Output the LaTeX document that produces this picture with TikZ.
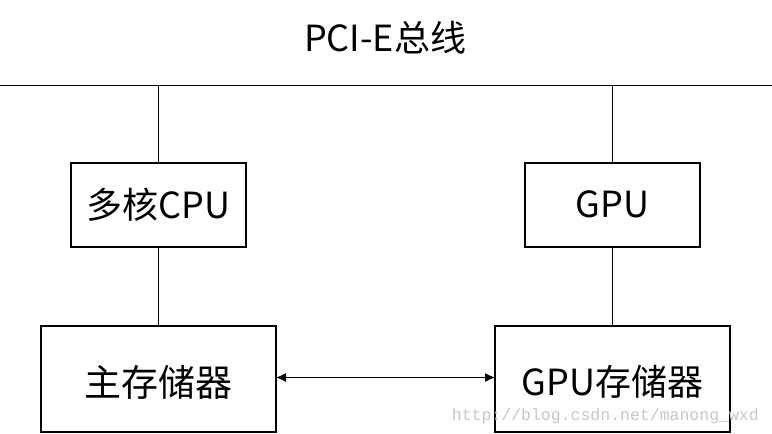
\documentclass[tikz,border=0pt]{standalone}
\usepackage{fontspec}
\setmainfont{Noto Sans CJK SC}
\newfontfamily\wmfont{Liberation Mono}
\usetikzlibrary{arrows.meta}
\begin{document}
\begin{tikzpicture}[x=1pt,y=-1pt,
  unitbox/.style={draw,line width=2pt,inner sep=0pt,outer sep=0pt,anchor=north west},
  conn/.style={line width=1pt}]
\useasboundingbox (0,0) rectangle (772,434);
\node (bus) at (385,38) {\fontsize{36}{42}\selectfont PCI-E总线};
\coordinate (busL) at (0,85.5);
\coordinate (busR) at (772,85.5);
\draw[conn] (busL) -- (busR);
\node[unitbox,minimum width=175pt,minimum height=84pt] (cpu) at (71,162.5) {};
\node at (cpu.center) {\fontsize{36}{42}\selectfont 多核CPU};
\node[unitbox,minimum width=175pt,minimum height=84pt] (gpu) at (525,162.5) {};
\node at (gpu.center) {\fontsize{36}{42}\selectfont GPU};
\node[unitbox,minimum width=235pt,minimum height=106pt] (mem) at (41,326) {};
\node at ([yshift=-3pt]mem.center) {\fontsize{37}{43}\selectfont 主存储器};
\node[unitbox,minimum width=235pt,minimum height=106pt] (gmem) at (495,326) {};
\node at ([yshift=-3pt]gmem.center) {\fontsize{36}{42}\selectfont GPU存储器};
\coordinate (cb) at (158.5,85.5);
\coordinate (gb) at (612.5,85.5);
\draw[conn] (cb) -- (cpu.north);
\draw[conn] (cpu.south) -- (mem.north);
\draw[conn] (gb) -- (gpu.north);
\draw[conn] (gpu.south) -- (gmem.north);
\draw[conn,{Latex[length=10pt,width=9pt]}-{Latex[length=10pt,width=9pt]}] ([yshift=1.5pt]mem.east) -- ([yshift=1.5pt]gmem.west);
\node[anchor=base east,text=black!22,inner sep=0pt] (wm) at (759,420) {\wmfont\fontsize{16.5}{18}\selectfont http://blog.csdn.net/manong\_wxd};
\end{tikzpicture}
\end{document}
